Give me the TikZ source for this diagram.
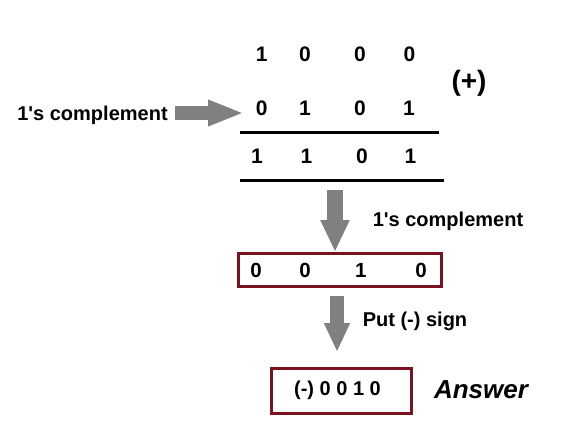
\documentclass[tikz,border=0pt]{standalone}
\usepackage{fontspec}
\setmainfont{Liberation Sans}[Ligatures=TeXOff]
\usetikzlibrary{arrows.meta}
\definecolor{boxred}{RGB}{122,18,32}
\definecolor{arrowgray}{RGB}{128,128,128}
\begin{document}
\begin{tikzpicture}[x=1pt,y=-1pt,
  dig/.style={font=\bfseries\fontsize{21}{24}\selectfont, inner sep=0pt, anchor=base},
  lab/.style={font=\bfseries\fontsize{20}{24}\selectfont, inner sep=0pt, anchor=base},
  boxframe/.style={draw=boxred, line width=3pt},
  rule/.style={line width=3pt},
  blockarrow/.style={draw=arrowgray, line width=#1}
]
\useasboundingbox (0,0) rectangle (567,432);
% row 1
\node[dig] (a1) at (261.7,61) {1};
\node[dig] (a2) at (305,61) {0};
\node[dig] (a3) at (360,61) {0};
\node[dig] (a4) at (409.5,61) {0};
% row 2
\node[dig] (b1) at (261.7,115.7) {0};
\node[dig] (b2) at (305,115.7) {1};
\node[dig] (b3) at (360,115.7) {0};
\node[dig] (b4) at (409,115.7) {1};
% row 3
\node[dig] (c1) at (257,163.3) {1};
\node[dig] (c2) at (306.5,163.3) {1};
\node[dig] (c3) at (362,163.3) {0};
\node[dig] (c4) at (410.5,163.3) {1};
% rules
\draw[rule] (240,132.3) -- (439,132.3);
\draw[rule] (240,180) -- (444,180);
% plus sign
\node[dig, font=\bfseries\fontsize{28}{32}\selectfont] (plus) at (469,90.8) {(+)};
% left label and arrow
\node[lab] (lc) at (92.5,120.5) {1's complement};
\coordinate (la0) at (175,113);
\coordinate (la1) at (244,113);
\draw[blockarrow=14pt, -{Triangle[length=36pt,width=24pt]}] (la0) -- (la1);
% down arrow 1
\coordinate (d10) at (335,190);
\coordinate (d11) at (335,252);
\draw[blockarrow=16pt, -{Triangle[length=32pt,width=27pt]}] (d10) -- (d11);
\node[lab] (rc) at (448,226.7) {1's complement};
% box 1
\draw[boxframe] (238.5,253.5) rectangle (441.5,286.5);
\node[dig, font=\bfseries\fontsize{20.5}{24}\selectfont] (e1) at (256,277) {0};
\node[dig, font=\bfseries\fontsize{20.5}{24}\selectfont] (e2) at (305,277) {0};
\node[dig, font=\bfseries\fontsize{20.5}{24}\selectfont] (e3) at (360.7,277) {1};
\node[dig, font=\bfseries\fontsize{20.5}{24}\selectfont] (e4) at (421,277) {0};
% down arrow 2
\coordinate (d20) at (337,296);
\coordinate (d21) at (337,352);
\draw[blockarrow=14pt, -{Triangle[length=29pt,width=24pt]}] (d20) -- (d21);
\node[lab] (ps) at (415,326) {Put (-) sign};
% box 2
\draw[boxframe] (271.5,368) rectangle (411.5,413);
\node[lab] (res) at (337.5,395) {(-) 0 0 1 0};
\node[lab, font=\bfseries\itshape\fontsize{26}{30}\selectfont] (ans) at (481,398) {Answer};
\end{tikzpicture}
\end{document}
